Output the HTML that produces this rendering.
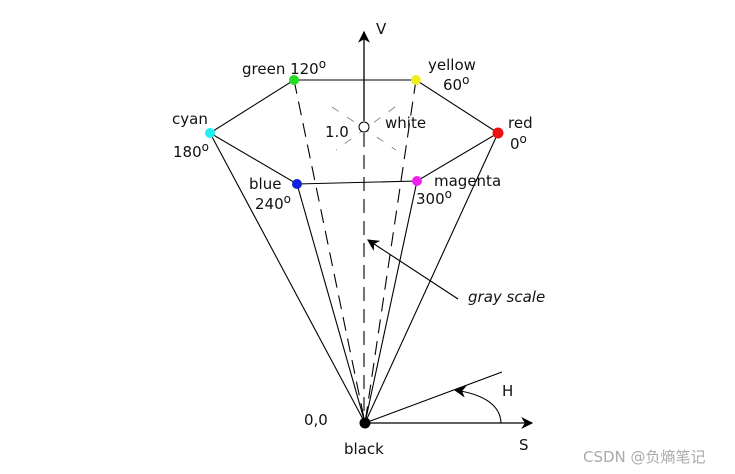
<!DOCTYPE html>
<html><head><style>body{margin:0;background:#fff}svg{display:block}text{font-family:"DejaVu Sans","Liberation Sans","Noto Sans CJK SC",sans-serif;font-size:15px;fill:#111}</style></head><body>
<svg width="735" height="474" viewBox="0 0 735 474">
<defs><marker id="b" viewBox="0 0 10 10" refX="9" refY="5" markerWidth="22" markerHeight="12" orient="auto" markerUnits="userSpaceOnUse"><path d="M0,0L10,5L0,10L3,5Z" fill="#000"/></marker></defs>
<g stroke="#000" stroke-width="1.1" fill="none">
<polygon points="294,80 416,80 498,133 417,181 297,184 210,133"/>
<line x1="210" y1="133" x2="365" y2="423"/>
<line x1="297" y1="184" x2="365" y2="423"/>
<line x1="417" y1="181" x2="365" y2="423"/>
<line x1="498" y1="133" x2="365" y2="423"/>
<g stroke-dasharray="14,8"><line x1="294" y1="80" x2="365" y2="423"/><line x1="416" y1="80" x2="365" y2="423"/><line x1="364" y1="133" x2="364" y2="423"/></g>
<g stroke-dasharray="8,10" stroke="#777" stroke-width="0.8"><line x1="332" y1="107" x2="396" y2="150"/><line x1="395" y1="107" x2="336" y2="150"/></g>
<line x1="364" y1="121" x2="364" y2="32" stroke-width="1.3" marker-end="url(#b)"/>
<line x1="458" y1="299" x2="368" y2="240" marker-end="url(#b)"/>
<line x1="365" y1="423" x2="532" y2="423" stroke-width="1.3" marker-end="url(#b)"/>
<line x1="365" y1="423" x2="502" y2="372"/>
<path d="M501,423 Q500,397 455,390" marker-end="url(#b)"/>
</g>
<circle cx="294" cy="80" r="5" fill="#22dd22"/>
<circle cx="416" cy="80" r="5" fill="#eeee22"/>
<circle cx="210" cy="133" r="5" fill="#22eeee"/>
<circle cx="498" cy="133" r="5.5" fill="#ee1111"/>
<circle cx="297" cy="184" r="5" fill="#1122dd"/>
<circle cx="417" cy="181" r="5" fill="#ee22ee"/>
<circle cx="364" cy="127" r="5" fill="#fff" stroke="#000"/>
<circle cx="365" cy="423" r="5.5" fill="#000"/>
<text x="376" y="34" font-size="18">V</text>
<text x="242" y="74">green 120<tspan dy="-6" font-size="12">o</tspan></text>
<text x="428" y="70">yellow</text><text x="443" y="90">60<tspan dy="-6" font-size="12">o</tspan></text>
<text x="172" y="124">cyan</text><text x="173" y="157">180<tspan dy="-6" font-size="12">o</tspan></text>
<text x="508" y="128">red</text><text x="510" y="149">0<tspan dy="-6" font-size="12">o</tspan></text>
<text x="249" y="189">blue</text><text x="255" y="209">240<tspan dy="-6" font-size="12">o</tspan></text>
<text x="434" y="186">magenta</text><text x="416" y="204">300<tspan dy="-6" font-size="12">o</tspan></text>
<text x="385" y="128">white</text>
<text x="325" y="137" font-family="Liberation Serif,serif" font-size="19">1.0</text>
<text x="468" y="302" font-style="italic">gray scale</text>
<text x="502" y="396" font-size="16">H</text>
<text x="519" y="450" font-size="17">S</text>
<text x="304" y="425" font-size="16">0,0</text>
<text x="344" y="454">black</text>
<text x="583" y="462" style="fill:#aaa" font-size="15">CSDN @负熵笔记</text>
</svg></body></html>
